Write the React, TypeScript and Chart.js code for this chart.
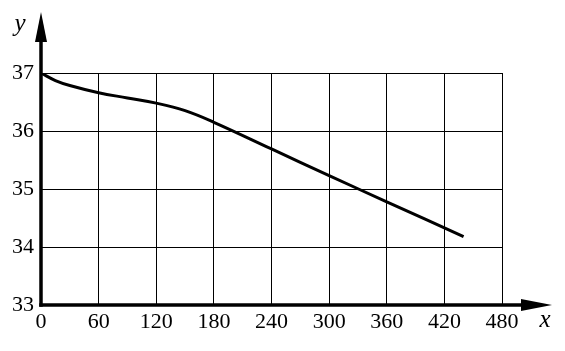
import React, { useEffect, useRef } from "react";
import { Chart, registerables } from "chart.js";

Chart.register(...registerables);

const xValues = [0, 15, 30, 60, 90, 120, 150, 180, 240, 300, 360, 440];
const yValues = [37, 36.87, 36.785, 36.66, 36.57, 36.48, 36.35, 36.15, 35.69, 35.23, 34.78, 34.18];
const xTicks = [0, 60, 120, 180, 240, 300, 360, 420, 480];
const yTicks = [33, 34, 35, 36, 37];

const FONT = "'Liberation Serif', 'Times New Roman', serif";

const axesPlugin = {
  id: "arrowAxes",
  afterDatasetsDraw(chart: any) {
    const { ctx } = chart;
    const xs = chart.scales.x;
    const ys = chart.scales.y;
    const x0 = xs.getPixelForValue(0);
    const y0 = ys.getPixelForValue(33);
    ctx.save();
    ctx.strokeStyle = "#000";
    ctx.fillStyle = "#000";
    ctx.lineWidth = 3.5;
    ctx.lineCap = "butt";
    ctx.beginPath();
    ctx.moveTo(x0, y0 + 1.75);
    ctx.lineTo(x0, 42);
    ctx.stroke();
    ctx.beginPath();
    ctx.moveTo(x0, 12);
    ctx.lineTo(x0 - 6, 42);
    ctx.lineTo(x0 + 6, 42);
    ctx.closePath();
    ctx.fill();
    ctx.beginPath();
    ctx.moveTo(x0 - 1.75, y0);
    ctx.lineTo(522, y0);
    ctx.stroke();
    ctx.beginPath();
    ctx.moveTo(552, y0);
    ctx.lineTo(521, y0 - 6);
    ctx.lineTo(521, y0 + 6);
    ctx.closePath();
    ctx.fill();
    ctx.font = `italic 25px ${FONT}`;
    ctx.textAlign = "center";
    ctx.textBaseline = "middle";
    ctx.fillText("y", 20, 24);
    ctx.fillText("x", 545, 320);
    ctx.restore();
  },
};

export default function App() {
  const ref = useRef<HTMLCanvasElement | null>(null);
  useEffect(() => {
    if (!ref.current) return;
    const chart = new Chart(ref.current, {
      type: "line",
      data: {
        datasets: [
          {
            data: xValues.map((x, i) => ({ x, y: yValues[i] })),
            borderColor: "#000",
            borderWidth: 3,
            pointRadius: 0,
            tension: 0.4,
            fill: false,
          },
        ],
      },
      options: {
        animation: false,
        responsive: false,
        maintainAspectRatio: false,
        layout: { padding: { left: 0, top: 73, right: 63, bottom: 0 } },
        plugins: { legend: { display: false }, tooltip: { enabled: false } },
        scales: {
          x: {
            type: "linear",
            min: 0,
            max: 480,
            afterBuildTicks: (s: any) => {
              s.ticks = xTicks.map((v) => ({ value: v }));
            },
            afterFit: (s: any) => {
              s.height = 46;
            },
            ticks: {
              color: "#000",
              font: { family: FONT, size: 22 },
              padding: 4,
              maxRotation: 0,
              autoSkip: false,
            },
            grid: { color: "#000", lineWidth: 1, drawTicks: false },
            border: { display: false },
          },
          y: {
            min: 33,
            max: 37,
            afterBuildTicks: (s: any) => {
              s.ticks = yTicks.map((v) => ({ value: v }));
            },
            afterFit: (s: any) => {
              s.width = 41;
            },
            ticks: {
              color: "#000",
              font: { family: FONT, size: 22 },
              padding: 7,
              autoSkip: false,
            },
            grid: { color: "#000", lineWidth: 1, drawTicks: false },
            border: { display: false },
          },
        },
      },
      plugins: [axesPlugin],
    });
    return () => chart.destroy();
  }, []);
  return (
    <div style={{ position: "fixed", left: 0, top: 0, width: 565, height: 351, background: "#fff" }}>
      <canvas ref={ref} width={565} height={351} style={{ width: 565, height: 351 }} />
    </div>
  );
}
